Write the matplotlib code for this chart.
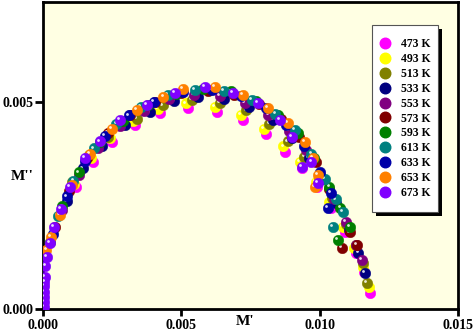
#!/usr/bin/env python3
"""Modulus plane plot (M'' vs M') for eleven temperatures."""

import matplotlib
matplotlib.use("Agg")
import matplotlib.pyplot as plt
import matplotlib.patheffects as pe
from matplotlib.lines import Line2D
from matplotlib.patches import Rectangle
from matplotlib.transforms import offset_copy

# values in units of 1e-3
temps = ["473 K", "493 K", "513 K", "533 K", "553 K", "573 K",
         "593 K", "613 K", "633 K", "653 K", "673 K"]
colors = ["#FF00FF", "#FFFF00", "#808000", "#000080", "#800080", "#800000",
          "#008000", "#008080", "#0000A8", "#FF8000", "#8000FF"]

m1_473 = [1.20, 1.81, 2.49, 3.33, 4.23, 5.24, 6.29, 7.23, 8.06, 8.75, 9.36, 9.90, 10.40, 10.90, 11.30, 11.60, 11.82]
m2_473 = [2.95, 3.55, 4.03, 4.44, 4.73, 4.86, 4.76, 4.57, 4.23, 3.79, 3.41, 2.95, 2.45, 1.85, 1.35, 0.90, 0.39]

m1_493 = [1.13, 1.74, 2.42, 3.26, 4.16, 5.17, 6.22, 7.16, 7.99, 8.69, 9.30, 9.85, 10.35, 10.85, 11.25, 11.55, 11.78]
m2_493 = [3.02, 3.66, 4.13, 4.55, 4.84, 4.97, 4.88, 4.69, 4.36, 3.93, 3.55, 3.08, 2.58, 1.98, 1.48, 1.02, 0.52]

m1_513 = [1.05, 1.66, 2.35, 3.40, 4.32, 5.37, 6.40, 7.35, 8.18, 8.85, 9.45, 9.98, 10.45, 10.95, 11.30, 11.55, 11.72]
m2_513 = [3.08, 3.72, 4.16, 4.60, 4.92, 5.05, 4.98, 4.80, 4.47, 4.05, 3.68, 3.18, 2.68, 2.05, 1.55, 1.10, 0.63]

m1_533 = [0.85, 1.45, 2.15, 2.95, 3.85, 4.75, 5.60, 6.55, 7.45, 8.30, 9.00, 9.60, 10.10, 10.60, 11.05, 11.40, 11.64]
m2_533 = [2.60, 3.40, 3.95, 4.45, 4.75, 5.02, 5.12, 5.08, 4.88, 4.58, 4.13, 3.65, 3.15, 2.55, 1.90, 1.35, 0.87]

m1_553 = [0.70, 1.30, 2.00, 2.80, 3.65, 4.55, 5.45, 6.40, 7.30, 8.15, 8.90, 9.50, 10.00, 10.50, 10.95, 11.30, 11.53]
m2_553 = [2.40, 3.25, 3.90, 4.42, 4.78, 5.08, 5.18, 5.16, 4.98, 4.70, 4.30, 3.85, 3.25, 2.65, 2.10, 1.55, 1.18]

m1_573 = [0.45, 0.95, 1.60, 2.35, 3.15, 4.05, 5.00, 5.95, 6.90, 7.80, 8.60, 9.25, 9.85, 10.35, 10.81, 11.10, 11.35]
m2_573 = [1.98, 2.85, 3.65, 4.25, 4.68, 5.00, 5.22, 5.28, 5.18, 4.95, 4.60, 4.15, 3.55, 2.90, 1.47, 1.85, 1.55]

m1_593 = [0.25, 0.70, 1.30, 2.05, 2.90, 3.80, 4.80, 5.80, 6.80, 7.70, 8.50, 9.20, 9.80, 10.35, 10.75, 11.10, 10.66]
m2_593 = [1.62, 2.48, 3.30, 4.03, 4.55, 4.92, 5.20, 5.31, 5.26, 5.03, 4.70, 4.25, 3.65, 2.95, 2.45, 1.98, 1.67]

m1_613 = [0.55, 1.10, 1.85, 2.65, 3.55, 4.50, 5.50, 6.55, 7.55, 8.40, 9.10, 9.70, 10.20, 10.60, 10.84, 10.48]
m2_613 = [2.25, 3.10, 3.88, 4.47, 4.88, 5.18, 5.30, 5.28, 5.05, 4.72, 4.32, 3.75, 3.15, 2.65, 2.34, 1.98]

m1_633 = [0.35, 0.85, 1.50, 2.25, 3.10, 4.00, 5.05, 6.10, 7.15, 8.05, 8.80, 9.45, 10.00, 10.40, 10.30]
m2_633 = [1.82, 2.72, 3.58, 4.18, 4.68, 5.00, 5.25, 5.30, 5.15, 4.85, 4.45, 3.95, 3.30, 2.80, 2.44]

m1_653 = [0.12, 0.30, 0.60, 1.05, 1.70, 2.50, 3.40, 4.35, 5.05, 6.20, 7.23, 8.13, 8.86, 9.47, 9.76, 9.94, 9.83]
m2_653 = [1.43, 1.75, 2.28, 3.00, 3.75, 4.35, 4.82, 5.12, 5.31, 5.36, 5.17, 4.86, 4.49, 4.04, 3.65, 3.24, 2.95]

m1_673 = [0.03, 0.03, 0.03, 0.03, 0.04, 0.05, 0.06, 0.09, 0.13, 0.25, 0.40, 0.64, 0.98, 1.52, 2.06, 2.78,
          3.76, 4.77, 5.85, 6.87, 7.77, 8.57, 9.00, 9.36, 9.70, 9.94]
m2_673 = [0.05, 0.18, 0.30, 0.42, 0.55, 0.66, 0.78, 1.04, 1.26, 1.59, 1.98, 2.42, 2.95, 3.65, 4.05, 4.57,
          4.93, 5.22, 5.37, 5.22, 4.98, 4.57, 4.15, 3.43, 3.55, 3.05]

series = [(m1_473, m2_473), (m1_493, m2_493), (m1_513, m2_513), (m1_533, m2_533),
          (m1_553, m2_553), (m1_573, m2_573), (m1_593, m2_593), (m1_613, m2_613),
          (m1_633, m2_633), (m1_653, m2_653), (m1_673, m2_673)]

plt.rcParams["font.family"] = ["Liberation Serif", "DejaVu Serif"]
plt.rcParams["font.weight"] = "bold"

fig = plt.figure(figsize=(4.74, 3.35), dpi=100)
ax = fig.add_axes([43 / 474, 1 - 309 / 335, 415 / 474, 307 / 335])
ax.set_facecolor("#FFFFE3")

MS = 7.6
hl_tr = offset_copy(ax.transData, fig=fig, x=-1.3, y=1.3, units="points")
for (xs, ys), col in zip(series, colors):
    xv = [v * 1e-3 for v in xs]
    yv = [v * 1e-3 for v in ys]
    ax.plot(xv, yv, ls="none", marker="o", ms=MS, mfc=col, mec=col, mew=0.3, zorder=3)
    ax.plot(xv, yv, ls="none", marker="o", ms=2.0, mfc="white", mec="none",
            alpha=0.85, transform=hl_tr, zorder=3)

ax.set_xlim(0, 0.015)
ax.set_ylim(0, 0.00742)
ax.set_xticks([0, 0.005, 0.010, 0.015])
ax.set_xticklabels(["0.000", "0.005", "0.010", "0.015"])
ax.set_yticks([0, 0.005])
ax.set_yticklabels(["0.000", "0.005"])
ax.tick_params(axis="x", direction="out", length=5, width=2, pad=2, labelsize=10)
ax.tick_params(axis="y", direction="out", length=6, width=2, pad=1, labelsize=10)
for lab in ax.get_xticklabels() + ax.get_yticklabels():
    lab.set_fontweight("bold")
for sp in ax.spines.values():
    sp.set_linewidth(2)

ax.text(0.487, -0.04, "M'", transform=ax.transAxes, ha="center", va="center",
        fontsize=11, fontweight="bold")
ax.text(-0.05, 0.433, "M''", transform=ax.transAxes, ha="center", va="center",
        fontsize=11, fontweight="bold")

# legend box with a hard black drop shadow
box = Rectangle((0.7928, 0.316), 0.159, 0.609, transform=ax.transAxes,
                facecolor="white", edgecolor="#555555", linewidth=0.8, zorder=5)
box.set_path_effects([pe.SimplePatchShadow(offset=(3, -3), shadow_rgbFace="black", alpha=1),
                      pe.Normal()])
ax.add_patch(box)

handles = [Line2D([], [], ls="none", marker="o", ms=MS, mfc=c, mec=c) for c in colors]
leg = ax.legend(handles, temps, loc="center", bbox_to_anchor=(0.8723, 0.6205),
                frameon=False, prop={"size": 8.5, "weight": "bold"},
                labelspacing=0.24, handlelength=1.0, handletextpad=0.8,
                borderpad=0, borderaxespad=0)
leg.set_zorder(6)

fig.savefig("out.png", dpi=100)
